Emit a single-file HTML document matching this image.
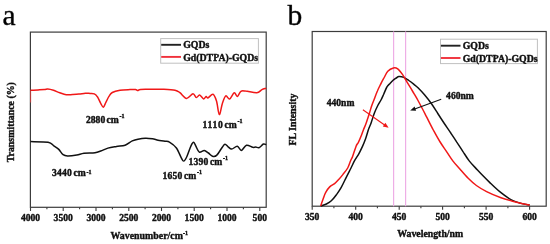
<!DOCTYPE html><html><head><meta charset="utf-8"><style>html,body{margin:0;padding:0;background:#fff;width:550px;height:244px;overflow:hidden}svg{display:block;will-change:transform}</style></head><body><svg width="550" height="244" viewBox="0 0 550 244"><style>text{font-family:"Liberation Serif",serif;stroke:#111;stroke-width:0.4px;stroke-linejoin:round}</style><rect width="550" height="244" fill="#fff"/><text x="2.6" y="24.6" font-size="29.5" fill="#000">a</text><text x="287.6" y="25" font-size="29.5" fill="#000">b</text><rect x="30.4" y="32.1" width="235.79999999999998" height="175.20000000000002" fill="none" stroke="#3c3c3c" stroke-width="1.2"/><path d="M30.5,207.3v3.6 M46.9,207.3v2 M63.2,207.3v3.6 M79.6,207.3v2 M96.0,207.3v3.6 M112.4,207.3v2 M128.8,207.3v3.6 M145.1,207.3v2 M161.5,207.3v3.6 M177.9,207.3v2 M194.2,207.3v3.6 M210.6,207.3v2 M227.0,207.3v3.6 M243.4,207.3v2 M259.8,207.3v3.6" stroke="#3c3c3c" stroke-width="1.1" fill="none"/><g font-weight="bold" font-size="9.6" fill="#111" text-anchor="middle"><text x="30.5" y="221">4000</text><text x="63.2" y="221">3500</text><text x="96.0" y="221">3000</text><text x="128.8" y="221">2500</text><text x="161.5" y="221">2000</text><text x="194.2" y="221">1500</text><text x="227.0" y="221">1000</text><text x="259.8" y="221">500</text></g><text x="110.5" y="239.2" font-weight="bold" font-size="9.9" fill="#111">Wavenumber/cm<tspan dy="-4.5" font-size="6">-1</tspan></text><text transform="translate(13.8,162.3) rotate(-90)" font-weight="bold" font-size="9.9" fill="#111">Transmittance (%)</text><path d="M30.6,102.5V90.4" stroke="#e04040" stroke-width="1.1" stroke-opacity="0.75" fill="none"/><path d="M30.5,90.3 C31.8,90.2 35.7,90.0 38.0,89.9 C40.3,89.8 42.9,89.7 44.5,89.6 C46.1,89.5 46.2,89.0 47.7,89.1 C49.2,89.2 51.5,89.7 53.5,90.3 C55.5,90.9 57.7,92.1 59.8,92.8 C61.9,93.5 64.1,94.4 66.2,94.7 C68.3,95.0 70.4,94.6 72.5,94.5 C74.6,94.4 76.8,94.3 78.9,94.1 C81.0,93.9 83.5,93.3 85.3,93.2 C87.1,93.1 88.5,93.3 90.0,93.4 C91.5,93.5 93.1,93.2 94.3,93.8 C95.5,94.4 96.4,95.2 97.4,96.8 C98.5,98.3 99.6,101.4 100.6,103.1 C101.6,104.8 102.4,107.4 103.3,107.2 C104.2,107.0 105.0,103.9 106.0,102.1 C107.0,100.3 108.0,97.8 109.1,96.2 C110.1,94.6 110.5,93.5 112.3,92.5 C114.1,91.5 117.0,90.7 120.0,90.2 C123.0,89.7 127.4,89.7 130.0,89.6 C132.6,89.5 134.2,89.3 135.5,89.5 C136.8,89.7 137.0,90.5 137.8,90.5 C138.6,90.5 138.5,89.6 140.5,89.4 C142.5,89.2 146.3,89.3 150.0,89.3 C153.7,89.3 158.6,89.0 162.8,89.2 C167.0,89.4 172.2,89.6 175.0,90.2 C177.8,90.8 178.0,91.3 179.9,92.7 C181.8,94.1 184.3,98.2 186.5,98.4 C188.7,98.6 191.4,93.9 193.0,93.8 C194.6,93.7 195.2,97.4 196.3,97.6 C197.4,97.8 198.4,94.9 199.6,95.1 C200.8,95.3 202.6,98.7 203.7,98.9 C204.8,99.1 205.4,96.6 206.1,96.4 C206.8,96.2 206.7,98.3 207.8,98.0 C209.0,97.7 211.6,93.8 213.0,94.3 C214.4,94.8 215.4,97.6 216.5,101.0 C217.6,104.4 218.3,114.2 219.3,114.5 C220.3,114.8 221.4,106.1 222.5,103.0 C223.6,99.9 224.6,96.6 225.8,95.9 C227.0,95.2 228.2,99.5 229.6,99.0 C231.0,98.5 232.9,93.2 234.2,92.8 C235.5,92.4 236.2,96.7 237.3,96.4 C238.4,96.2 239.5,92.2 240.9,91.3 C242.3,90.4 242.8,90.8 245.5,91.1 C248.2,91.3 254.1,93.0 256.8,92.8 C259.5,92.6 260.3,90.5 261.9,89.7 C263.5,88.9 265.5,88.5 266.2,88.2" stroke="#f01818" stroke-width="1.5" fill="none" stroke-linejoin="round"/><path d="M30.5,141.6 C33.4,141.7 44.2,141.5 48.1,142.2 C52.0,142.9 52.0,144.6 53.8,145.8 C55.6,147.0 57.2,147.9 58.8,149.4 C60.3,150.9 61.6,153.6 63.1,154.7 C64.5,155.8 65.2,156.0 67.5,156.1 C69.8,156.2 74.0,155.6 76.8,155.1 C79.5,154.6 81.0,153.6 84.0,153.2 C87.0,152.8 92.2,153.1 95.0,152.7 C97.8,152.3 98.5,151.8 100.7,151.0 C102.9,150.2 105.3,148.9 107.9,148.1 C110.5,147.3 113.6,146.9 116.5,146.4 C119.4,145.9 122.5,146.1 125.1,145.2 C127.7,144.3 130.2,141.9 132.3,140.9 C134.5,139.9 135.8,139.6 138.0,139.2 C140.2,138.8 142.8,138.4 145.2,138.3 C147.6,138.2 150.2,138.5 152.4,138.8 C154.6,139.1 156.0,139.8 158.1,140.2 C160.2,140.6 163.1,140.8 165.0,141.2 C166.9,141.5 167.9,141.2 169.8,142.3 C171.7,143.4 174.5,145.4 176.4,148.0 C178.3,150.6 180.1,155.7 181.3,157.9 C182.5,160.1 182.9,161.4 183.8,161.1 C184.8,160.8 185.8,158.8 187.0,156.2 C188.2,153.6 190.0,147.9 191.1,145.6 C192.2,143.3 192.8,142.2 193.6,142.3 C194.4,142.4 195.1,144.8 196.0,146.4 C196.9,148.0 197.9,151.4 199.3,152.1 C200.7,152.8 202.8,150.3 204.3,150.5 C205.8,150.7 207.0,152.1 208.4,153.0 C209.8,153.9 211.1,155.8 212.5,156.2 C213.9,156.6 215.0,156.9 216.6,155.4 C218.2,153.9 220.9,149.1 222.3,147.2 C223.7,145.3 224.0,144.3 225.0,144.2 C226.0,144.1 227.0,146.0 228.1,146.8 C229.2,147.6 230.2,149.2 231.7,149.1 C233.2,149.0 235.7,146.1 237.3,146.3 C238.9,146.5 239.9,150.6 241.4,150.4 C242.9,150.2 244.6,145.7 246.5,145.2 C248.4,144.7 251.2,147.0 252.7,147.3 C254.2,147.6 254.6,147.1 255.7,147.1 C256.8,147.1 258.0,148.0 259.3,147.5 C260.6,147.0 262.2,144.5 263.4,144.0 C264.5,143.5 265.7,144.6 266.2,144.7" stroke="#111" stroke-width="1.5" fill="none" stroke-linejoin="round"/><text x="86" y="122.7" font-weight="bold" font-size="9.6" fill="#111"><tspan letter-spacing="0">2880</tspan><tspan dx="-1"> cm</tspan><tspan dx="0.7" dy="-5" font-size="6">-1</tspan></text><text x="202.5" y="127.8" font-weight="bold" font-size="9.6" fill="#111"><tspan letter-spacing="0.7">1110</tspan><tspan dx="-1.3"> cm</tspan><tspan dx="0.7" dy="-5" font-size="6">-1</tspan></text><text x="52" y="175.7" font-weight="bold" font-size="9.6" fill="#111"><tspan letter-spacing="0.2">3440</tspan><tspan dx="-0.8"> cm</tspan><tspan dx="0.7" dy="-2" font-size="6">-1</tspan></text><text x="162.5" y="178.9" font-weight="bold" font-size="9.6" fill="#111"><tspan letter-spacing="0.2">1650</tspan><tspan dx="-0.8"> cm</tspan><tspan dx="0.7" dy="-4.5" font-size="6">-1</tspan></text><text x="188.5" y="164.8" font-weight="bold" font-size="9.6" fill="#111"><tspan letter-spacing="0.2">1390</tspan><tspan dx="-0.8"> cm</tspan><tspan dx="0.7" dy="-5" font-size="6">-1</tspan></text><rect x="160.7" y="38.6" width="97.69999999999999" height="24.6" fill="#fff" stroke="#c0c0c0" stroke-width="1"/><path d="M161.2,44.8H181" stroke="#222" stroke-width="1.9"/><path d="M161.2,56.9H181" stroke="#f0303a" stroke-width="1.9"/><text x="183.2" y="48.4" font-weight="bold" font-size="9.8" fill="#111">GQDs</text><text x="183.2" y="60.5" font-weight="bold" font-size="9.8" fill="#111">Gd(DTPA)-GQDs</text><rect x="312.2" y="31.5" width="234.00000000000006" height="174.7" fill="none" stroke="#3c3c3c" stroke-width="1.2"/><path d="M312.2,206.2v3.6 M333.9,206.2v2 M355.7,206.2v3.6 M377.4,206.2v2 M399.2,206.2v3.6 M420.9,206.2v2 M442.6,206.2v3.6 M464.4,206.2v2 M486.1,206.2v3.6 M507.9,206.2v2 M529.6,206.2v3.6" stroke="#3c3c3c" stroke-width="1.1" fill="none"/><g font-weight="bold" font-size="9.6" fill="#111" text-anchor="middle"><text x="312.2" y="220">350</text><text x="355.7" y="220">400</text><text x="399.2" y="220">450</text><text x="442.6" y="220">500</text><text x="486.1" y="220">550</text><text x="529.6" y="220">600</text></g><text x="397.3" y="236.5" font-weight="bold" font-size="9.8" fill="#111">Wavelength/nm</text><text transform="translate(296.4,145.5) rotate(-90)" font-weight="bold" font-size="9.9" fill="#111">FL Intensity</text><path d="M393.6,31.5V206.2M405.6,31.5V206.2" stroke="#eeaee6" stroke-width="1.2" fill="none"/><rect x="440.5" y="39.2" width="96.89999999999998" height="24.4" fill="#fff" stroke="#c0c0c0" stroke-width="1"/><path d="M440.9,45.7H460.5" stroke="#222" stroke-width="1.9"/><path d="M440.9,58H460.5" stroke="#f0303a" stroke-width="1.9"/><text x="462.7" y="49.300000000000004" font-weight="bold" font-size="9.8" fill="#111">GQDs</text><text x="462.7" y="61.6" font-weight="bold" font-size="9.8" fill="#111">Gd(DTPA)-GQDs</text><path d="M320.7,206.0 C321.6,205.7 324.6,204.9 326.4,204.0 C328.2,203.1 329.7,202.3 331.3,200.8 C332.9,199.3 334.6,197.2 336.2,195.0 C337.8,192.8 339.5,190.6 341.1,187.7 C342.7,184.8 344.4,181.1 346.0,177.8 C347.6,174.5 349.6,170.8 351.0,168.0 C352.4,165.2 353.1,163.3 354.3,161.1 C355.5,158.9 357.0,157.0 358.4,154.6 C359.8,152.2 361.3,149.0 362.5,146.4 C363.7,143.8 364.5,141.7 365.5,139.0 C366.5,136.3 367.4,132.7 368.3,130.0 C369.2,127.3 370.1,125.7 371.1,122.9 C372.1,120.1 373.3,115.9 374.4,113.0 C375.5,110.1 376.7,107.7 377.8,105.5 C378.9,103.3 380.0,101.9 381.0,100.0 C382.0,98.1 382.7,96.4 383.7,94.2 C384.7,92.0 385.8,88.8 386.9,87.0 C387.9,85.2 388.9,84.6 390.0,83.4 C391.1,82.2 392.6,80.7 393.6,79.8 C394.7,78.9 395.4,78.5 396.3,78.0 C397.2,77.5 397.6,76.6 398.9,76.5 C400.1,76.4 402.1,76.7 403.8,77.4 C405.5,78.1 407.2,79.4 408.8,80.5 C410.4,81.6 412.2,83.0 413.7,84.2 C415.2,85.4 416.2,86.0 418.0,87.8 C419.8,89.6 422.2,92.1 424.5,94.8 C426.8,97.5 429.3,100.7 431.5,103.8 C433.7,106.9 435.7,110.2 437.8,113.5 C439.9,116.8 442.1,120.2 444.3,123.5 C446.5,126.8 449.1,130.4 451.1,133.5 C453.2,136.6 454.7,138.8 456.6,141.8 C458.6,144.8 460.7,148.1 462.8,151.3 C464.9,154.5 466.9,158.0 469.4,161.1 C471.8,164.2 475.1,167.4 477.5,170.0 C479.9,172.6 481.8,174.6 484.0,176.8 C486.2,179.1 488.0,180.8 490.8,183.5 C493.6,186.2 497.6,190.0 501.0,192.7 C504.4,195.4 508.2,198.2 511.3,199.9 C514.4,201.6 516.4,202.1 519.5,202.9 C522.6,203.8 528.0,204.7 529.7,205.0" stroke="#111" stroke-width="1.5" fill="none" stroke-linejoin="round"/><path d="M320.7,206.0 C321.1,204.8 322.3,201.3 323.1,199.1 C323.9,196.9 324.5,194.6 325.6,192.6 C326.7,190.6 328.2,188.4 329.7,186.9 C331.2,185.4 333.1,184.8 334.6,183.6 C336.1,182.4 337.3,181.0 338.7,179.5 C340.1,178.0 341.3,176.5 342.8,174.6 C344.3,172.7 346.4,170.3 347.7,168.0 C349.0,165.7 349.7,163.0 350.5,161.0 C351.3,159.0 351.8,158.6 352.7,156.2 C353.6,153.8 355.1,148.7 356.0,146.4 C356.9,144.1 357.6,143.9 358.4,142.3 C359.2,140.7 360.1,138.7 360.9,136.6 C361.7,134.5 362.5,132.3 363.4,130.0 C364.3,127.7 365.2,125.7 366.2,122.9 C367.2,120.1 368.6,115.9 369.5,113.0 C370.4,110.1 371.0,107.8 371.8,105.5 C372.6,103.2 373.4,101.4 374.3,99.0 C375.2,96.6 376.3,93.5 377.4,91.0 C378.4,88.5 379.5,86.5 380.6,84.3 C381.7,82.0 383.0,79.7 384.2,77.5 C385.4,75.3 386.3,72.8 387.8,71.2 C389.3,69.6 391.8,68.3 393.4,67.9 C395.0,67.5 396.2,67.7 397.7,68.8 C399.2,69.9 401.3,72.8 402.6,74.6 C403.9,76.4 404.1,77.3 405.4,79.4 C406.7,81.5 408.9,85.0 410.3,87.4 C411.7,89.8 412.7,91.4 414.0,93.6 C415.3,95.8 416.7,98.1 418.0,100.5 C419.3,102.9 420.6,105.4 422.0,108.0 C423.4,110.6 424.4,112.6 426.3,116.3 C428.2,120.0 431.1,125.8 433.3,130.0 C435.6,134.2 437.6,137.9 439.8,141.5 C442.0,145.1 444.2,148.0 446.4,151.3 C448.6,154.6 450.7,158.1 453.0,161.1 C455.3,164.1 457.8,166.6 460.3,169.5 C462.8,172.4 465.5,175.6 468.2,178.3 C470.9,181.0 473.3,183.3 476.4,185.5 C479.5,187.7 482.5,189.6 486.6,191.7 C490.7,193.8 496.2,196.1 501.0,197.8 C505.8,199.5 510.6,200.7 515.4,201.9 C520.2,203.1 527.3,204.5 529.7,205.0" stroke="#f01818" stroke-width="1.5" fill="none" stroke-linejoin="round"/><text x="326.7" y="106.2" font-weight="bold" font-size="9.6" fill="#111">440nm</text><text x="446.1" y="98.6" font-weight="bold" font-size="9.6" fill="#111">460nm</text><path d="M362.9,109.8L386,126" stroke="#f01818" stroke-width="1.1" fill="none"/><path d="M388.6,127.8L382.8,126.5L385.4,122.8Z" fill="#f01818"/><path d="M441.2,99.3L414,109.2" stroke="#111" stroke-width="1.1" fill="none"/><path d="M410.2,110.6L416.1,110.8L414.6,106.6Z" fill="#111"/></svg></body></html>
